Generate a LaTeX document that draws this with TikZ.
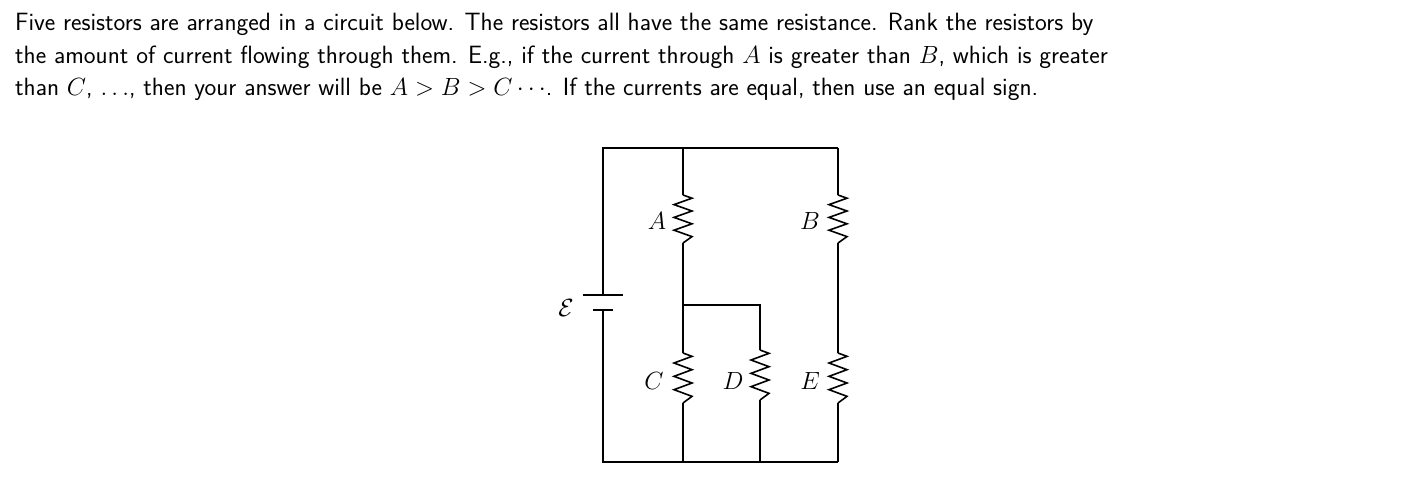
\documentclass[tikz,border=0pt]{standalone}
\begin{document}
\begin{tikzpicture}[x=1pt,y=-1pt,
  wire/.style={line width=1.6pt},
  txt/.style={anchor=base west,inner sep=0pt,font=\sffamily\fontsize{25}{30}\selectfont},
  lab/.style={inner sep=0pt,font=\fontsize{27}{32}\selectfont}]
\useasboundingbox (0,0) rectangle (1426,496);
\node[txt] (l1) at (15,30) {Five resistors are arranged in a circuit below. The resistors all have the same resistance. Rank the resistors by};
\node[txt] (l2) at (15,63) {the amount of current flowing through them. E.g., if the current through $A$ is greater than $B$, which is greater};
\node[txt] (l3) at (15,95) {than $C$, $\ldots$, then your answer will be $A>B>C\cdots$. If the currents are equal, then use an equal sign.};
\def\zig#1#2#3{% x, ytop, ybottom
  \draw[wire,line join=miter] (#1,#2)
   \foreach \i in {1,...,7}{ -- ({#1+(mod(\i,2)*2-1)*9},{#2+(#3-#2)*(\i-0.5)/7.5}) } -- (#1,#3);}
\draw[wire] (603,295) -- (603,148) -- (838,148);
\draw[wire] (603,310) -- (603,462) -- (838,462);
\draw[wire] (583,295) -- (623,295);
\draw[wire] (593,310) -- (613,310);
\draw[wire] (683,148) -- (683,195);
\zig{683}{195}{243}
\draw[wire] (683,243) -- (683,353);
\zig{683}{353}{403}
\draw[wire] (683,403) -- (683,462);
\draw[wire] (683,305) -- (760,305) -- (760,350);
\zig{760}{350}{400}
\draw[wire] (760,400) -- (760,462);
\draw[wire] (838,148) -- (838,195);
\zig{838}{195}{243}
\draw[wire] (838,243) -- (838,353);
\zig{838}{353}{403}
\draw[wire] (838,403) -- (838,462);
\node[lab] (A) at (657,221) {$A$};
\node[lab] (B) at (810,221) {$B$};
\node[lab] (C) at (654,381) {$C$};
\node[lab] (D) at (733,381) {$D$};
\node[lab] (E) at (810,381) {$E$};
\node[lab] (emf) at (566,308) {$\mathcal{E}$};
\end{tikzpicture}
\end{document}
